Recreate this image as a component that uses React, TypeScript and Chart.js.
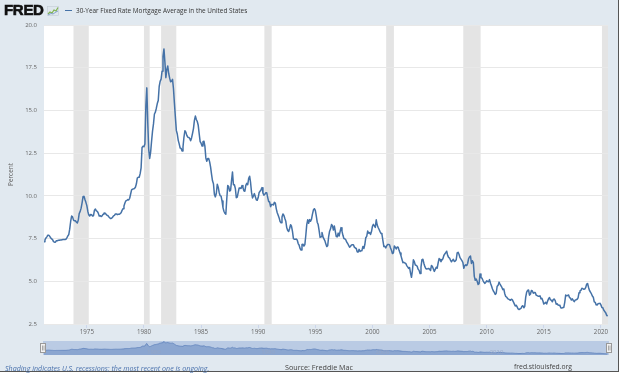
import React, { useEffect, useRef } from "react";
import { Chart, registerables } from "chart.js";

Chart.register(...registerables);

// ---------- DATA (monthly 30-year fixed mortgage rate, %) ----------
const firstYear = 1971;
const firstMonth = 4; // April 1971

const rates1970s = [
  7.31, 7.43, 7.53, 7.6, 7.7, 7.69, 7.63, 7.55, 7.48,
  7.44, 7.32, 7.29, 7.29, 7.37, 7.37, 7.4, 7.4, 7.42, 7.42, 7.43, 7.44,
  7.44, 7.44, 7.46, 7.54, 7.65, 7.73, 8.05, 8.5, 8.82, 8.77, 8.58, 8.54,
  8.54, 8.46, 8.41, 8.58, 8.97, 9.09, 9.28, 9.59, 9.96, 9.98, 9.79, 9.62,
  9.43, 9.1, 8.89, 8.82, 8.91, 8.89, 8.82, 8.84, 9.16, 9.23, 9.12, 9.09,
  8.99, 8.82, 8.84, 8.79, 8.83, 8.92, 8.98, 9.0, 8.94, 8.87, 8.85, 8.78,
  8.72, 8.67, 8.69, 8.75, 8.83, 8.86, 8.94, 8.94, 8.9, 8.92, 8.92, 8.96,
  9.01, 9.15, 9.25, 9.41, 9.58, 9.71, 9.74, 9.78, 9.76, 9.86, 10.11, 10.35,
  10.39, 10.41, 10.43, 10.5, 10.69, 11.04, 11.09, 11.09, 11.3, 11.64, 12.83, 12.9,
];
const rates1980s = [
  12.88, 13.04, 15.28, 16.32, 14.26, 12.71, 12.19, 12.56, 13.2, 13.79, 14.21, 14.79,
  14.9, 15.13, 15.4, 15.58, 16.4, 16.7, 16.83, 17.29, 18.16, 18.6, 17.83, 16.92,
  17.4, 17.6, 17.16, 16.89, 16.68, 16.7, 16.82, 16.27, 15.43, 14.61, 13.83, 13.62,
  13.25, 13.04, 12.8, 12.78, 12.63, 12.87, 13.43, 13.81, 13.73, 13.54, 13.44, 13.42,
  13.37, 13.23, 13.39, 13.65, 13.94, 14.42, 14.67, 14.47, 14.35, 14.13, 13.64, 13.18,
  13.08, 12.92, 13.17, 13.2, 12.91, 12.22, 12.03, 12.19, 12.19, 11.99, 11.68, 11.26,
  10.88, 10.71, 10.08, 9.94, 10.14, 10.68, 10.51, 10.2, 10.01, 9.98, 9.7, 9.31,
  9.1, 8.98, 8.92, 9.83, 10.6, 10.54, 10.28, 10.33, 10.89, 11.4, 10.65, 10.65,
  10.43, 9.89, 9.93, 10.2, 10.46, 10.46, 10.43, 10.6, 10.48, 10.3, 10.27, 10.61,
  10.73, 10.65, 11.03, 11.15, 10.77, 10.2, 9.88, 9.99, 10.13, 9.95, 9.77, 9.74,
];
const rates1990s = [
  9.9, 10.2, 10.27, 10.37, 10.48, 10.16, 10.04, 10.1, 10.18, 10.18, 9.9, 9.67,
  9.64, 9.37, 9.5, 9.49, 9.47, 9.62, 9.58, 9.24, 9.01, 8.86, 8.71, 8.5,
  8.43, 8.76, 8.94, 8.85, 8.67, 8.51, 8.13, 7.98, 7.92, 8.09, 8.31, 8.22,
  7.92, 7.5, 7.46, 7.46, 7.47, 7.42, 7.21, 7.11, 6.92, 6.83, 7.16, 7.17,
  7.06, 7.15, 7.68, 8.32, 8.6, 8.4, 8.61, 8.51, 8.64, 8.93, 9.17, 9.25,
  9.15, 8.83, 8.46, 8.32, 7.96, 7.57, 7.61, 7.86, 7.64, 7.48, 7.38, 7.2,
  7.03, 7.08, 7.62, 7.93, 8.07, 8.32, 8.25, 8.0, 8.23, 7.92, 7.62, 7.6,
  7.82, 7.65, 7.9, 8.14, 7.94, 7.69, 7.5, 7.48, 7.43, 7.29, 7.21, 7.1,
  6.99, 7.04, 7.13, 7.14, 7.14, 7.0, 6.95, 6.92, 6.72, 6.71, 6.87, 6.74,
  6.79, 6.81, 7.04, 6.92, 7.15, 7.55, 7.63, 7.94, 7.82, 7.85, 7.74, 7.91,
];
const rates2000s = [
  8.21, 8.33, 8.24, 8.15, 8.6, 8.29, 8.15, 8.03, 7.91, 7.8, 7.75, 7.38,
  7.03, 7.05, 6.95, 7.08, 7.15, 7.16, 7.13, 6.95, 6.82, 6.62, 6.66, 7.07,
  7.0, 6.89, 7.01, 6.99, 6.81, 6.65, 6.49, 6.29, 6.09, 6.11, 6.07, 6.05,
  5.92, 5.84, 5.75, 5.81, 5.48, 5.23, 5.63, 6.26, 6.15, 5.95, 5.93, 5.88,
  5.71, 5.64, 5.45, 5.83, 6.27, 6.29, 6.06, 5.87, 5.75, 5.72, 5.73, 5.75,
  5.71, 5.63, 5.93, 5.86, 5.72, 5.58, 5.7, 5.82, 5.77, 6.07, 6.33, 6.27,
  6.15, 6.25, 6.32, 6.51, 6.6, 6.68, 6.76, 6.52, 6.4, 6.36, 6.24, 6.14,
  6.22, 6.29, 6.16, 6.18, 6.26, 6.66, 6.7, 6.57, 6.38, 6.38, 6.21, 6.1,
  5.76, 5.92, 5.97, 5.92, 6.04, 6.32, 6.43, 6.48, 6.04, 6.2, 6.09, 5.29,
  5.06, 5.13, 5.0, 4.81, 4.86, 5.42, 5.22, 5.19, 5.06, 4.95, 4.88, 4.93,
];
const rates2010s = [
  5.03, 4.99, 4.97, 5.1, 4.89, 4.74, 4.56, 4.43, 4.35, 4.23, 4.3, 4.71,
  4.76, 4.95, 4.84, 4.84, 4.64, 4.51, 4.55, 4.27, 4.11, 4.07, 3.99, 3.96,
  3.92, 3.89, 3.95, 3.91, 3.8, 3.68, 3.55, 3.6, 3.5, 3.38, 3.35, 3.35,
  3.41, 3.53, 3.57, 3.45, 3.54, 4.07, 4.37, 4.46, 4.49, 4.19, 4.26, 4.46,
  4.43, 4.3, 4.34, 4.34, 4.19, 4.16, 4.13, 4.12, 4.16, 3.98, 4.0, 3.86,
  3.67, 3.71, 3.77, 3.67, 3.84, 3.98, 4.05, 3.91, 3.89, 3.8, 3.94, 3.96,
  3.87, 3.66, 3.69, 3.61, 3.6, 3.57, 3.44, 3.44, 3.46, 3.47, 3.77, 4.2,
  4.15, 4.17, 4.2, 4.05, 4.01, 3.9, 3.97, 3.88, 3.81, 3.9, 3.92, 3.95,
  4.03, 4.33, 4.44, 4.47, 4.59, 4.57, 4.53, 4.55, 4.63, 4.83, 4.87, 4.64,
  4.46, 4.37, 4.27, 4.14, 4.07, 3.8, 3.77, 3.62, 3.61, 3.69, 3.7, 3.72,
];
const rates2020s = [3.62, 3.47, 3.45, 3.31, 3.23, 3.16, 3.02, 2.96];

// recessions as [start, end] in decimal years
const recessionStarts = [1973.83, 1980.0, 1981.5, 1990.54, 2001.2, 2007.95, 2020.09];
const recessionEnds = [1975.17, 1980.5, 1982.83, 1991.18, 2001.88, 2009.47, 2020.7];

const xTickYears = [1975, 1980, 1985, 1990, 1995, 2000, 2005, 2010, 2015, 2020];
const yTickValues = [2.5, 5, 7.5, 10, 12.5, 15, 17.5, 20];
const navigatorYears = [1980, 1990, 2000, 2010];

const xMin = 1971.25;
const xMax = 2020.62;

const seriesTitle = "30-Year Fixed Rate Mortgage Average in the United States";
const yAxisTitle = "Percent";

const FONT = '"Open Sans", "DejaVu Sans", sans-serif';

const allRates = [...rates1970s, ...rates1980s, ...rates1990s, ...rates2000s, ...rates2010s, ...rates2020s];
const points = allRates.map((v, i) => ({ x: firstYear + (firstMonth - 1 + i) / 12, y: v }));

const mainBgPlugin = {
  id: "mainBg",
  beforeDraw(chart: any) {
    const { ctx, chartArea: a, scales } = chart;
    const x = scales.x;
    ctx.save();
    ctx.fillStyle = "#ffffff";
    ctx.fillRect(a.left, a.top, a.right - a.left, a.bottom - a.top);
    ctx.fillStyle = "#e4e4e4";
    recessionStarts.forEach((s, i) => {
      const x0 = Math.max(a.left, x.getPixelForValue(s));
      const x1 = Math.min(a.right, x.getPixelForValue(recessionEnds[i]));
      if (x1 > x0) ctx.fillRect(x0, a.top, x1 - x0, a.bottom - a.top);
    });
    ctx.restore();
  },
};

const navPlugin = {
  id: "navDecor",
  beforeDraw(chart: any) {
    const { ctx, chartArea: a } = chart;
    ctx.save();
    ctx.fillStyle = "#bacbe4";
    ctx.fillRect(a.left - 1, a.top, a.right - a.left + 2, a.bottom - a.top);
    ctx.restore();
  },
  afterDraw(chart: any) {
    const { ctx, chartArea: a, scales } = chart;
    const x = scales.x;
    ctx.save();
    ctx.font = `6px ${FONT}`;
    ctx.fillStyle = "rgba(150,165,195,0.9)";
    ctx.textBaseline = "middle";
    navigatorYears.forEach((yr) => {
      ctx.fillText(String(yr), x.getPixelForValue(yr) + 3, a.bottom - 3);
    });
    // handles
    const cy = (a.top + a.bottom) / 2;
    [a.left - 1, a.right + 1].forEach((hx) => {
      ctx.fillStyle = "#f2f2f2";
      ctx.strokeStyle = "#999999";
      ctx.lineWidth = 1;
      ctx.fillRect(hx - 2.5, cy - 4.5, 5, 9);
      ctx.strokeRect(hx - 2.5, cy - 4.5, 5, 9);
      ctx.beginPath();
      ctx.moveTo(hx - 0.5, cy - 2.5);
      ctx.lineTo(hx - 0.5, cy + 2.5);
      ctx.moveTo(hx + 1, cy - 2.5);
      ctx.lineTo(hx + 1, cy + 2.5);
      ctx.strokeStyle = "#aaaaaa";
      ctx.stroke();
    });
    ctx.restore();
  },
};

export default function App() {
  const mainRef = useRef<HTMLCanvasElement>(null);
  const navRef = useRef<HTMLCanvasElement>(null);

  useEffect(() => {
    document.body.style.margin = "0";
    Chart.defaults.font.family = FONT;

    const main = new Chart(mainRef.current as HTMLCanvasElement, {
      type: "line",
      data: {
        datasets: [
          {
            data: points,
            borderColor: "#4572a7",
            borderWidth: 1.5,
            pointRadius: 0,
            tension: 0,
            fill: false,
            borderJoinStyle: "round",
          },
        ],
      },
      options: {
        animation: false,
        responsive: false,
        devicePixelRatio: 1,
        layout: { padding: { left: 0, right: 17, top: 25, bottom: 0 } },
        plugins: { legend: { display: false }, tooltip: { enabled: false } },
        scales: {
          x: {
            type: "linear",
            min: xMin,
            max: xMax,
            afterFit: (s: any) => {
              s.height = 21;
            },
            afterBuildTicks: (s: any) => {
              s.ticks = xTickYears.map((v) => ({ value: v }));
            },
            grid: { drawOnChartArea: false, drawTicks: true, tickLength: 4, color: "#ccd6eb" },
            border: { display: false },
            ticks: {
              color: "#666666",
              font: { size: 6.2, family: FONT },
              padding: 1,
              maxRotation: 0,
              autoSkip: false,
              callback: (v: any) => String(v),
            },
          },
          y: {
            min: 2.5,
            max: 20,
            afterFit: (s: any) => {
              s.width = 44;
            },
            afterBuildTicks: (s: any) => {
              s.ticks = yTickValues.map((v) => ({ value: v }));
            },
            grid: { color: "#e8e8e8", drawTicks: false, lineWidth: 1 },
            border: { display: false },
            ticks: {
              color: "#666666",
              font: { size: 6, family: FONT },
              padding: 7,
              callback: (v: any) => Number(v).toFixed(1),
            },
            title: {
              display: true,
              text: yAxisTitle,
              color: "#666666",
              font: { size: 6.4, family: FONT },
              padding: { top: 7, bottom: 0 },
            },
          },
        },
      } as any,
      plugins: [mainBgPlugin],
    });

    const nav = new Chart(navRef.current as HTMLCanvasElement, {
      type: "line",
      data: {
        datasets: [
          {
            data: points,
            borderColor: "#6b8cc2",
            backgroundColor: "#8ba6d0",
            borderWidth: 1,
            pointRadius: 0,
            tension: 0,
            fill: "start",
          },
        ],
      },
      options: {
        animation: false,
        responsive: false,
        devicePixelRatio: 1,
        layout: { padding: { left: 44, right: 17, top: 3, bottom: 2 } },
        plugins: { legend: { display: false }, tooltip: { enabled: false } },
        scales: {
          x: { type: "linear", min: xMin, max: xMax, display: false },
          y: { min: 1.5, max: 19.5, display: false },
        },
      } as any,
      plugins: [navPlugin],
    });

    return () => {
      main.destroy();
      nav.destroy();
    };
  }, []);

  return (
    <div style={{ position: "fixed", left: 0, top: 0, width: 625, height: 378, background: "#ffffff", overflow: "hidden" }}>
      <div
        style={{
          position: "absolute",
          left: 0,
          top: 0,
          width: 618,
          height: 371,
          background: "#e1e9f0",
          borderRight: "1px solid #555",
          borderBottom: "1px solid #555",
        }}
      />
      <canvas ref={mainRef} width={625} height={345} style={{ position: "absolute", left: 0, top: 0 }} />
      <canvas ref={navRef} width={625} height={19} style={{ position: "absolute", left: 0, top: 338 }} />
      {/* header */}
      <div
        style={{
          position: "absolute",
          left: 4,
          top: 2,
          font: 'bold 15px "Liberation Sans", Arial, sans-serif',
          lineHeight: "16px",
          color: "#111",
          letterSpacing: "-0.3px",
          WebkitTextStroke: "0.6px #111",
        }}
      >
        FRED
      </div>
      <svg style={{ position: "absolute", left: 47, top: 6 }} width={12} height={10} viewBox="0 0 12 10">
        <rect x={0.5} y={0.5} width={11} height={9} fill="#dfe7ee" stroke="#c2ccd6" strokeWidth={0.6} />
        <polyline points="1,8 3,6 5,7 7,4 9,5 11,1.5" fill="none" stroke="#7fb24f" strokeWidth={1.2} />
        <polyline points="1,9 4,7.5 6,8 9,6 11,5" fill="none" stroke="#6f93c4" strokeWidth={0.8} />
      </svg>
      <div style={{ position: "absolute", left: 65, top: 9.5, width: 7, height: 1.5, background: "#4572a7" }} />
      <div style={{ position: "absolute", left: 76, top: 5.5, font: `6.4px ${FONT}`, lineHeight: "10px", color: "#333", whiteSpace: "nowrap" }}>
        {seriesTitle}
      </div>
      {/* footer */}
      <div
        style={{
          position: "absolute",
          left: 5,
          top: 362.5,
          font: `italic 7.1px ${FONT}`,
          lineHeight: "10px",
          color: "#4a72ad",
          whiteSpace: "nowrap",
        }}
      >
        Shading indicates U.S. recessions; the most recent one is ongoing.
      </div>
      <div style={{ position: "absolute", left: 285, top: 362, font: `7.2px ${FONT}`, lineHeight: "10px", color: "#444", whiteSpace: "nowrap" }}>
        Source: Freddie Mac
      </div>
      <div style={{ position: "absolute", left: 514, top: 362, font: `6.8px ${FONT}`, lineHeight: "10px", color: "#444", whiteSpace: "nowrap" }}>
        fred.stlouisfed.org
      </div>
    </div>
  );
}
